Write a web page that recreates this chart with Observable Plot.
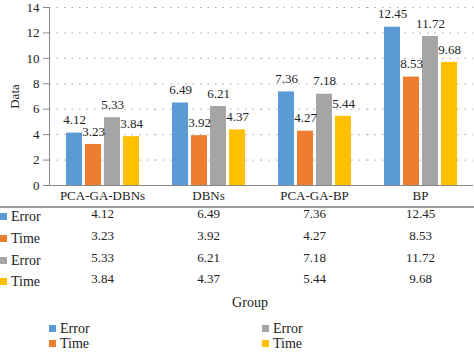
<!DOCTYPE html>
<html>
<head>
<meta charset="utf-8">
<script src="https://cdn.jsdelivr.net/npm/d3@7"></script>
<script src="https://cdn.jsdelivr.net/npm/@observablehq/plot@0.6"></script>
<style>
  html, body { margin: 0; padding: 0; background: #fff; }
  #wrap { position: relative; width: 474px; height: 353px; font-family: 'Liberation Serif', 'Times New Roman', Times, serif; color: #222; font-size: 13px; }
  #wrap svg { position: absolute; left: 0; top: 0; }
  #wrap svg text { font-family: 'Liberation Serif', 'Times New Roman', Times, serif; }
  .abs { position: absolute; white-space: nowrap; line-height: 16px; }
  .sw { display: inline-block; width: 7px; height: 7px; margin-right: 4px; vertical-align: 1px; }
</style>
</head>
<body>
<div id="wrap"></div>
<script>
const groups = ["PCA-GA-DBNs", "DBNs", "PCA-GA-BP", "BP"];
const seriesIds = ["errorA", "timeA", "errorB", "timeB"];
const seriesNames = ["Error", "Time", "Error", "Time"];
const colors = ["#5B9BD5", "#ED7D31", "#A5A5A5", "#FFC000"];
const errorA = [4.12, 6.49, 7.36, 12.45];
const timeA = [3.23, 3.92, 4.27, 8.53];
const errorB = [5.33, 6.21, 7.18, 11.72];
const timeB = [3.84, 4.37, 5.44, 9.68];
const yTicks = [0, 2, 4, 6, 8, 10, 12, 14];

const values = [errorA, timeA, errorB, timeB];
const data = seriesIds.flatMap((s, si) =>
  groups.map((g, gi) => ({ group: g, series: s, row: si, value: values[si][gi] }))
);

const rowDy = [32, 54, 76, 97];

const chart = Plot.plot({
  width: 474,
  height: 353,
  marginTop: 7,
  marginBottom: 168,
  marginLeft: 48,
  marginRight: 0,
  style: { fontSize: "13px", color: "#222", background: "transparent" },
  fx: { domain: groups, padding: 0, label: null },
  x: { domain: seriesIds, paddingInner: 0.18, paddingOuter: 0.82, axis: null },
  y: { domain: [0, 14] },
  color: { domain: seriesIds, range: colors },
  marks: [
    Plot.gridY(yTicks, { stroke: "#aaa", strokeOpacity: 1, strokeDasharray: "1.5,6" }),
    Plot.barY(data, { fx: "group", x: "series", y: "value", fill: "series" }),
    Plot.text(data, { fx: "group", x: "series", y: "value", text: d => d.value.toFixed(2), dy: -13, fill: "#222", fontSize: 13 }),
    Plot.ruleY([0], { stroke: "#888" }),
    Plot.frame({ anchor: "left", facetAnchor: "left", stroke: "#888" }),
    Plot.axisY({ ticks: yTicks, tickSize: 6, tickPadding: 4, stroke: "#888", label: "Data", labelAnchor: "center", labelArrow: false, labelOffset: 40, fontSize: 13 }),
    Plot.axisFx({ anchor: "bottom", tickSize: 0, tickPadding: 5, label: null, fontSize: 13 }),
    ...values.map((v, i) =>
      Plot.text(data.filter(d => d.row === i), { fx: "group", frameAnchor: "bottom", text: d => d.value.toFixed(2), dy: rowDy[i], fill: "#222", fontSize: 13 })
    )
  ]
});

const wrap = document.getElementById("wrap");
wrap.appendChild(chart);

function add(html, left, top, extra) {
  const el = document.createElement("div");
  el.className = "abs";
  el.style.left = left + "px";
  el.style.top = top + "px";
  if (extra) Object.assign(el.style, extra);
  el.innerHTML = html;
  wrap.appendChild(el);
  return el;
}

// separator line under category labels
const line = document.createElement("div");
Object.assign(line.style, { position: "absolute", left: "0px", top: "206px", width: "474px", height: "1.5px", background: "#999" });
wrap.appendChild(line);

// row labels of the data table
const rowTop = [209, 231, 253, 274];
seriesNames.forEach((name, i) => {
  add(`<span class="sw" style="background:${colors[i]}"></span>${name}`, 0, rowTop[i], { fontSize: "14px" });
});

// axis title
add("Group", 250, 295, { transform: "translateX(-50%)", fontSize: "14px" });

// legend
const legendPos = [[49, 321], [49, 336], [262, 321], [262, 336]];
seriesNames.forEach((name, i) => {
  add(`<span class="sw" style="background:${colors[i]}"></span>${name}`, legendPos[i][0], legendPos[i][1], { fontSize: "14px" });
});
</script>
</body>
</html>
